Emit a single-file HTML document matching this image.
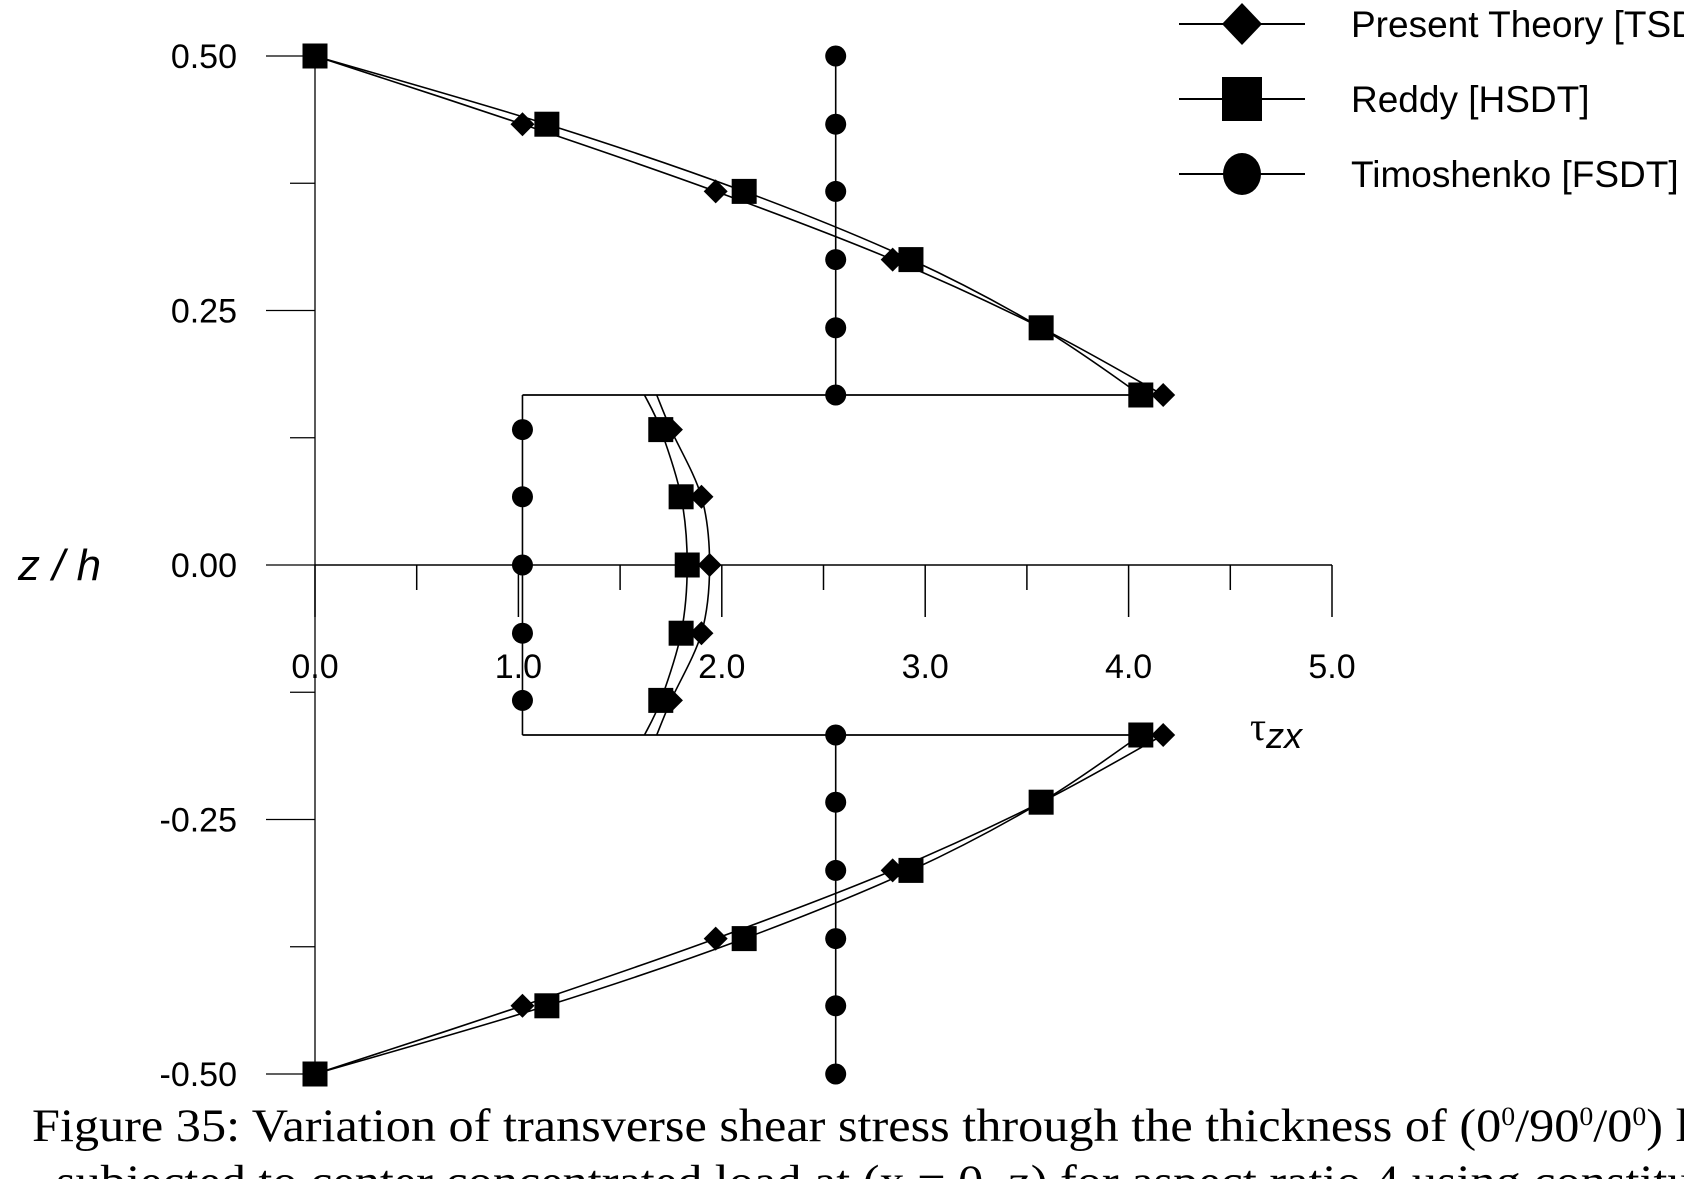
<!DOCTYPE html>
<html><head><meta charset="utf-8"><style>
html,body{margin:0;padding:0;background:#fff;overflow:hidden}
svg{display:block}
text{font-family:"Liberation Sans",sans-serif;fill:#000}
text.serif{font-family:"Liberation Serif",serif}
</style></head><body>
<svg id="chart" width="1684" height="1179" viewBox="0 0 1684 1179" xmlns="http://www.w3.org/2000/svg"></svg>
<script>
// data
const zLevels=[0.5,0.433,0.367,0.3,0.233,0.167];
const presentTop=[0,1.02,1.97,2.84,3.57,4.17];
const reddyTop=[0,1.14,2.11,2.93,3.57,4.06];
const timoTop=[2.56,2.56,2.56,2.56,2.56,2.56];
const zMid=[0.167,0.133,0.067,0,-0.067,-0.133,-0.167];
const presentMid=[1.68,1.75,1.90,1.94,1.90,1.75,1.68];
const reddyMid=[1.62,1.70,1.80,1.83,1.80,1.70,1.62];
const timoMid=[1.02,1.02,1.02,1.02,1.02,1.02,1.02];
const interfaceZ=[0.167,-0.167];
const interfaceX=[1.02,4.06];
const xTicks=[0,1,2,3,4,5];
const xTickLabels=["0.0","1.0","2.0","3.0","4.0","5.0"];
const yTicks=[0.5,0.25,0,-0.25,-0.5];
const yTickLabels=["0.50","0.25","0.00","-0.25","-0.50"];
const yMinor=[0.375,0.125,-0.125,-0.375];

const NS="http://www.w3.org/2000/svg";
const svg=document.getElementById('chart');
const X=v=>315+v*203.4;
const Y=v=>565-v*1018;
function el(tag,attrs,parent){const e=document.createElementNS(NS,tag);for(const k in attrs)e.setAttribute(k,attrs[k]);(parent||svg).appendChild(e);return e;}

// axes
const yAxis=el('line',{x1:X(0),y1:Y(0.5),x2:X(0),y2:Y(-0.5),stroke:'#000','stroke-width':1.3});


const xAxis=el('line',{x1:X(0),y1:Y(0),x2:X(5),y2:Y(0),stroke:'#000','stroke-width':1.5});


yTicks.forEach((t,i)=>{
  const l=el('line',{x1:266,y1:Y(t),x2:X(0),y2:Y(t),stroke:'#000','stroke-width':1.3});
  
  
  const tx=el('text',{x:237,y:Y(t)+12,'text-anchor':'end','font-size':34});
  tx.textContent=yTickLabels[i];
  
  
});
yMinor.forEach(t=>{
  const l=el('line',{x1:290,y1:Y(t),x2:X(0),y2:Y(t),stroke:'#000','stroke-width':1.3});
  
  
});
for(let v=0;v<=5.001;v+=0.5){
  const major=Math.abs(v-Math.round(v))<0.01;
  const l=el('line',{x1:X(v),y1:Y(0),x2:X(v),y2:Y(0)+(major?52:25),stroke:'#000','stroke-width':1.5});
  
  
}
xTicks.forEach((t,i)=>{
  const tx=el('text',{x:X(t),y:678,'text-anchor':'middle','font-size':34});
  tx.textContent=xTickLabels[i];
  
  
});

// smooth lines (catmull-rom)
function poly(xs,zs,sign,name){
  const P=xs.map((x,i)=>[X(x),Y(sign*zs[i])]);
  let d='M'+P[0][0]+','+P[0][1];
  for(let i=0;i<P.length-1;i++){
    const p0=P[i-1]||P[i],p1=P[i],p2=P[i+1],p3=P[i+2]||P[i+1];
    const c1=[p1[0]+(p2[0]-p0[0])/6,p1[1]+(p2[1]-p0[1])/6];
    const c2=[p2[0]-(p3[0]-p1[0])/6,p2[1]-(p3[1]-p1[1])/6];
    d+=` C${c1[0]},${c1[1]} ${c2[0]},${c2[1]} ${p2[0]},${p2[1]}`;
  }
  const p=el('path',{d:d,fill:'none',stroke:'#000','stroke-width':1.6});
  
  
}
[1,-1].forEach(s=>{
  poly(presentTop,zLevels,s,'present-theory-line');
  poly(reddyTop,zLevels,s,'reddy-line');
  poly(timoTop,zLevels,s,'timoshenko-line');
});
poly(presentMid,zMid,1,'present-theory-line');
poly(reddyMid,zMid,1,'reddy-line');
poly(timoMid,zMid,1,'timoshenko-line');
interfaceZ.forEach(z=>{
  const l=el('line',{x1:X(interfaceX[0]),y1:Y(z),x2:X(interfaceX[1]),y2:Y(z),stroke:'#000','stroke-width':1.8});
  
  
});

// markers
function diamond(cx,cy,r){const d=el('polygon',{points:`${cx},${cy-r} ${cx+r},${cy} ${cx},${cy+r} ${cx-r},${cy}`,fill:'#000'});}
function square(cx,cy,h){const d=el('rect',{x:cx-h,y:cy-h,width:2*h,height:2*h,fill:'#000'});}
function circ(cx,cy,r){const d=el('circle',{cx:cx,cy:cy,r:r,fill:'#000'});}
[1,-1].forEach(s=>{
  zLevels.forEach((z,i)=>{
    circ(X(timoTop[i]),Y(s*z),10.5);
    diamond(X(presentTop[i]),Y(s*z),12);
    square(X(reddyTop[i]),Y(s*z),12.5);
  });
});
zMid.forEach((z,i)=>{
  if(i===0||i===zMid.length-1)return;
  circ(X(timoMid[i]),Y(z),10.5);
  diamond(X(presentMid[i]),Y(z),12);
  square(X(reddyMid[i]),Y(z),12.5);
});

// axis titles
const zt=el('text',{x:18,y:580,'font-size':44,'font-style':'italic'});
zt.textContent='z / h';


const xt=el('text',{x:1250,y:740,'font-size':40});
xt.innerHTML='<tspan style="font-family:\'Liberation Serif\',serif">τ</tspan><tspan dy="8" font-style="italic" font-size="36">zx</tspan>';



// legend
const names=['Present Theory [TSDT]','Reddy [HSDT]','Timoshenko [FSDT]'];
const ly=[24,99,174];
names.forEach((n,i)=>{
  const g=el('g',{});
  
  
  el('line',{x1:1179,y1:ly[i],x2:1305,y2:ly[i],stroke:'#000','stroke-width':2},g);
  const cx=1242;
  if(i===0)el('polygon',{points:`${cx},${ly[i]-21} ${cx+20},${ly[i]} ${cx},${ly[i]+21} ${cx-20},${ly[i]}`,fill:'#000'},g);
  if(i===1)el('rect',{x:cx-20,y:ly[i]-22,width:40,height:44,fill:'#000'},g);
  if(i===2)el('ellipse',{cx:cx,cy:ly[i],rx:19,ry:21,fill:'#000'},g);
  const t=el('text',{x:1351,y:ly[i]+13,'font-size':37},g);
  t.textContent=n;
});

// caption
const c1=el('text',{class:'serif',x:32,y:1141,'font-size':47,transform:'translate(32,0) scale(1.07,1) translate(-32,0)'});
c1.innerHTML='Figure 35: Variation of transverse shear stress through the thickness of (0<tspan dy="-16" font-size="26">0</tspan><tspan dy="16">/90</tspan><tspan dy="-16" font-size="26">0</tspan><tspan dy="16">/0</tspan><tspan dy="-16" font-size="26">0</tspan><tspan dy="16">) laminated plate</tspan>';


const c2=el('text',{class:'serif',x:56,y:1197,'font-size':47,transform:'translate(56,0) scale(1.07,1) translate(-56,0)'});
c2.textContent='subjected to center concentrated load at (x = 0, z) for aspect ratio 4 using constitutive';


</script>
</body></html>
